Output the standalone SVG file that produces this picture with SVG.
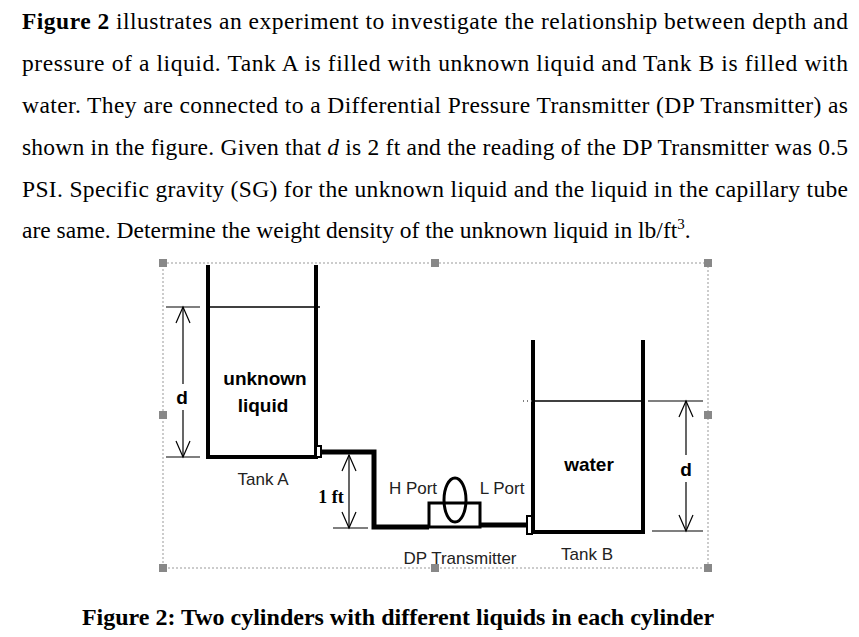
<svg xmlns="http://www.w3.org/2000/svg" width="859" height="637" viewBox="0 0 859 637">
<style>
.p{font-family:"Liberation Serif",serif;font-size:23.5px;fill:#000}
.s{font-family:"Liberation Sans",Arial,sans-serif;font-size:17px;fill:#222}
.b{font-family:"Liberation Sans",Arial,sans-serif;font-size:19px;font-weight:bold;fill:#000}
.w{stroke:#000;stroke-width:4;fill:none}
.t{stroke:#000;stroke-width:1.3;fill:none}
.h{fill:#888}
</style>
<rect width="859" height="637" fill="#fff"/>
<g id="para">
<text class="p" x="22" y="29" textLength="826" lengthAdjust="spacing"><tspan font-weight="bold">Figure 2</tspan> illustrates an experiment to investigate the relationship between depth and</text>
<text class="p" x="22" y="71" textLength="826" lengthAdjust="spacing">pressure of a liquid. Tank A is filled with unknown liquid and Tank B is filled with</text>
<text class="p" x="22" y="113" textLength="826" lengthAdjust="spacing">water. They are connected to a Differential Pressure Transmitter (DP Transmitter) as</text>
<text class="p" x="22" y="155" textLength="826" lengthAdjust="spacing">shown in the figure. Given that <tspan font-style="italic">d</tspan> is 2 ft and the reading of the DP Transmitter was 0.5</text>
<text class="p" x="22" y="197" textLength="826" lengthAdjust="spacing">PSI. Specific gravity (SG) for the unknown liquid and the liquid in the capillary tube</text>
<text class="p" x="22" y="238">are same. Determine the weight density of the unknown liquid in lb/ft<tspan font-size="15" dy="-9">3</tspan><tspan dy="9">.</tspan></text>
</g>
<g id="frame">
<rect x="163" y="263" width="545" height="305" fill="none" stroke="#999" stroke-width="1" stroke-dasharray="2,2"/>
<rect class="h" x="159" y="259" width="8" height="8"/><rect class="h" x="431" y="259" width="8" height="8"/><rect class="h" x="704" y="259" width="8" height="8"/>
<rect class="h" x="159" y="411" width="8" height="8"/><rect class="h" x="704" y="411" width="8" height="8"/>
<rect class="h" x="159" y="564" width="8" height="8"/><rect class="h" x="431" y="564" width="8" height="8"/><rect class="h" x="704" y="564" width="8" height="8"/>
</g>
<g id="tankA">
<path class="w" d="M208,265 V457 H316 V265"/>
<line class="t" x1="206" y1="307" x2="320" y2="307"/>
<text class="b" x="265" y="385" text-anchor="middle">unknown</text>
<text class="b" x="263" y="412" text-anchor="middle">liquid</text>
<text class="s" x="263" y="485" text-anchor="middle">Tank A</text>
</g>
<g id="tankB">
<path class="w" d="M533,340 V532 H643 V340"/>
<line class="t" x1="533" y1="401" x2="643" y2="401"/>
<line x1="523" y1="401" x2="533" y2="401" stroke="#555" stroke-width="1.3" stroke-dasharray="1,3"/>
<text class="b" x="589" y="471" text-anchor="middle">water</text>
<text class="s" x="587" y="560" text-anchor="middle">Tank B</text>
</g>
<g id="transmitter">
<rect x="429" y="503" width="51" height="24" fill="none" stroke="#000" stroke-width="3"/>
<ellipse cx="455" cy="500" rx="11" ry="22" fill="none" stroke="#000" stroke-width="3"/>
<text class="s" x="413" y="494" text-anchor="middle">H Port</text>
<text class="s" x="502" y="494" text-anchor="middle">L Port</text>
<text class="s" x="460" y="564" text-anchor="middle">DP Transmitter</text>
</g>
<g id="connectors">
<rect x="316" y="446" width="5" height="11" fill="#fff" stroke="#000" stroke-width="2"/>
<path d="M321,452 H374 V527 H429" stroke="#000" stroke-width="5" fill="none"/>
<path d="M480,525 H527" stroke="#000" stroke-width="5" fill="none"/>
<rect x="527" y="516" width="5" height="18" fill="#fff" stroke="#000" stroke-width="2"/>
</g>
<g id="dims" stroke="#000" stroke-width="1.2" fill="none">
<line x1="166" y1="307" x2="200" y2="307"/><line x1="166" y1="457" x2="200" y2="457"/>
<line x1="183" y1="307" x2="183" y2="384"/><line x1="183" y1="410" x2="183" y2="457"/>
<path d="M176,323 L183,307 L190,323 M176,441 L183,457 L190,441"/>
<line x1="333" y1="528" x2="368" y2="528"/>
<line x1="349" y1="455" x2="349" y2="528"/>
<path d="M342,471 L349,455 L356,471 M342,512 L349,528 L356,512"/>
<line x1="648" y1="401" x2="703" y2="401"/><line x1="652" y1="531" x2="703" y2="531"/>
<line x1="686" y1="401" x2="686" y2="455"/><line x1="686" y1="482" x2="686" y2="531"/>
<path d="M679,417 L686,401 L693,417 M679,515 L686,531 L693,515"/>
</g>
<g id="dimlabels">
<text class="b" x="182" y="404" text-anchor="middle">d</text>
<text class="b" x="686" y="476" text-anchor="middle">d</text>
<text x="331" y="503" text-anchor="middle" font-family="Liberation Serif,serif" font-weight="bold" font-size="18">1 ft</text>
</g>
<text x="398" y="625" text-anchor="middle" font-family="Liberation Serif,serif" font-weight="bold" font-size="24">Figure 2: Two cylinders with different liquids in each cylinder</text>
</svg>
